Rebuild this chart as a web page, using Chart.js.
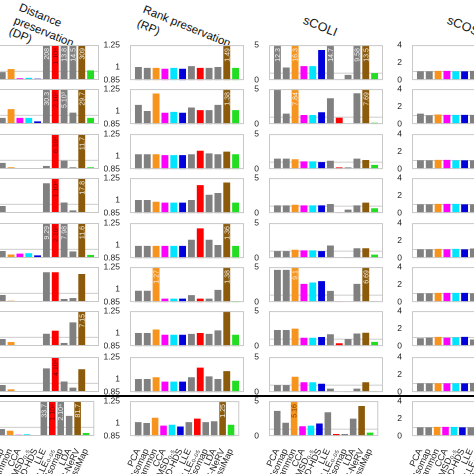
<!DOCTYPE html>
<html><head><meta charset="utf-8">
<script src="https://cdn.jsdelivr.net/npm/chart.js@4"></script>
<style>
body{margin:0;width:474px;height:474px;overflow:hidden;background:#fff;position:relative;font-family:"Liberation Sans",Arial,sans-serif}
canvas{position:absolute}
.t{position:absolute;font-size:11.5px;color:#111;transform:rotate(22deg);transform-origin:left top;line-height:12px;white-space:nowrap}
</style></head><body>
<div class="t" style="left:22px;top:1px">Distance</div>
<div class="t" style="left:17px;top:14px">preservation</div>
<div class="t" style="left:12px;top:25px">(DP)</div>
<div class="t" style="left:146px;top:3px">Rank preservation</div>
<div class="t" style="left:140px;top:17px">(RP)</div>
<div class="t" style="left:306px;top:14px;font-size:12.5px">sCOLI</div>
<div class="t" style="left:450px;top:14px;font-size:12.5px">sCOSI</div>
<div style="position:absolute;left:0;top:395px;width:474px;height:2px;background:#000;z-index:5"></div>
<script>
const categories=["PCA","Isomap","Sammon","CCA","LMSD₀.₅","DD-HDS","LLE","S-LLE₀.₀₅","S-Isomap","LDA","S-NeRV","ClassiMap"];
const colors=["#808080","#808080","#f7941d","#ff00ff","#00e5ff","#0000dd","#808080","#ff0000","#808080","#808080","#8b5a0a","#22dd22"];
const dp=[
[1,0.9,1.25,0.2,0.25,0.15,208,99,13.8,14.5,309,1.1],
[1,0.7,1.7,0.7,0.7,0.3,30.3,99,99,1.3,29.7,0.7],
[1,0.7,0.2,0.05,0.05,0.05,0.35,99,0.95,0.2,11.7,0.2],
[1,0.8,0.1,0.05,0.05,0.05,3.4,99,1.2,0.3,17.8,0.05],
[1,0.8,0.4,0.5,0.55,0.3,9.29,99,7.98,0.75,11.6,0.35],
[1,0.8,0.15,0.05,0.05,0.05,3.4,3.4,0.35,0.45,3.2,0.05],
[1,0.8,0.45,0.05,0.05,0.05,1.4,1.75,0.35,2.7,7.15,0.1],
[1,0.8,0.3,0.05,0.05,0.05,2.7,99,1.2,0.5,2.6,0.1],
[1,0.8,0.6,0.15,0.2,0.1,33.7,99,99,2.3,81.7,0.35]];
const dpLabels=[
{6:"208",7:"1.10⁴",8:"13.8",9:"14.5",10:"309"},
{6:"30.3",7:"2.10³",8:"5.10³",10:"29.7"},
{7:"6.10³",10:"11.7"},
{7:"1.10⁴",10:"17.8"},
{6:"9.29",7:"2.10³",8:"7.98",10:"11.6"},
{},
{10:"7.15"},
{7:"4.10³"},
{6:"33.7",7:"1.10⁴",8:"2.10⁴",10:"81.7"}];
const rp=[
[1.0,0.99,0.99,0.98,0.99,0.98,1.01,0.99,0.99,1.0,1.49,0.99],
[1.07,1.0,1.2,0.98,0.99,0.98,1.04,1.01,1.01,1.07,1.38,1.01],
[1.02,1.02,1.02,1.01,1.01,1.01,1.02,1.06,1.03,1.02,1.05,1.02],
[1.0,1.0,0.98,0.97,0.97,0.97,1.0,1.17,1.06,1.08,1.2,0.97],
[0.99,0.99,0.99,0.99,0.99,0.99,1.06,1.19,1.06,1.0,1.36,0.99],
[0.98,0.98,1.27,0.89,0.89,0.89,0.93,0.89,0.89,0.99,1.38,0.86],
[1.0,1.0,1.04,0.98,0.98,0.98,0.99,1.0,0.99,1.03,1.25,0.98],
[1.0,1.0,1.02,0.97,0.97,0.97,1.02,1.13,1.03,1.0,1.09,0.98],
[1.01,1.0,1.06,0.97,0.98,0.96,1.01,1.05,1.01,1.02,1.25,0.98]];
const rpLabels=[{10:"1.49"},{10:"1.38"},{},{},{10:"1.36"},{2:"1.27",10:"1.38"},{},{},{10:"1.25"}];
const scoli=[
[12.3,1.8,16.3,2.0,2.0,4.3,14.7,0.05,0.75,9.58,13.5,1.0],
[5,1.5,7.84,1.3,1.3,1.7,3.7,0.9,0,4.4,7.69,0.2],
[1.5,1.5,1.4,1.1,1.1,1.0,1.2,0.25,0.25,1.5,1.3,0.6],
[1.1,1.1,1.2,1.1,1.1,1.1,1.3,0.1,0.5,1.1,1.5,0.7],
[1.0,1.0,1.2,1.1,1.1,1.0,1.8,0,0.1,1.4,1.4,0.5],
[4.6,4.6,9.1,2.6,2.8,3.0,1.6,0.1,0,2.6,6.69,0.1],
[2.3,2.3,2.5,1.2,1.2,1.3,1.7,0.4,1.0,1.8,1.9,0.6],
[1.0,1.0,2.2,1.4,1.4,1.2,0.5,0,0.1,0.5,1.4,0.1],
[3.6,1.9,5.16,1.4,1.5,1.8,3.4,0.3,0.3,2.5,4.3,0.5]];
const scoliLabels=[{0:"12.3",2:"16.3",6:"14.7",9:"9.58",10:"13.5"},{2:"7.84",10:"7.69"},{},{},{},{2:"9.1",10:"6.69"},{},{},{2:"5.16"}];
const scos=[
[1,1,1.05,1.05,1,1,1.05,1,1,1,1,1],
[1.2,1,1.1,1.05,1.05,1.05,1.05,1,1,1,1,1],
[1,1,1.05,1.05,1,1,1,1,1,1,1,1],
[1,1,1.05,1.05,1.05,1,1,1,1,1,1,1],
[1,1,1.05,1,1.05,1,1.1,1,1,1,1,1],
[1,1,1.05,1.05,1.05,1.05,1,1,1,1,1,1],
[0.9,0.95,1.05,0.95,1,1.05,0.75,1,1,1,1,1],
[1,1,1,1,1,1,1.05,1,1,1,1,1],
[1,1,1.05,1.05,1.05,1,1,1,1,1,1,1]];
const rowTops=[45,89,134,178,223,267,311,357,401];
const plotH=35, xAxH=62;
const panels=[
 {data:dp,labels:dpLabels,left:-15,min:0,max:4,ticks:[],ref:1},
 {data:rp,labels:rpLabels,left:130,min:0.85,max:1.25,ticks:[0.85,1,1.25],ref:null},
 {data:scoli,labels:scoliLabels,left:269,min:0,max:5,ticks:[0,5],ref:1},
 {data:scos,labels:null,left:412,min:0,max:4,ticks:[0,2,4],ref:1}];
const frameW=114, inset=4, axW=26;
const deco={id:'deco',
 beforeDatasetsDraw(c,a,o){if(o.ref==null)return;const ctx=c.ctx,y=c.scales.y.getPixelForValue(o.ref);
  ctx.save();ctx.strokeStyle='#bbb';ctx.lineWidth=0.8;ctx.beginPath();ctx.moveTo(c.chartArea.left-inset,y);ctx.lineTo(c.chartArea.right+inset,y);ctx.stroke();ctx.restore();},
 afterDatasetsDraw(c,a,o){const ctx=c.ctx,ca=c.chartArea;ctx.save();ctx.strokeStyle='#c8c8c8';ctx.lineWidth=1;
  ctx.strokeRect(ca.left-inset+0.5,ca.top+0.5,ca.right-ca.left+2*inset-1,ca.bottom-ca.top-1);
  if(o.labels){const m=c.getDatasetMeta(0);for(const k in o.labels){const b=m.data[k];ctx.save();ctx.translate(b.x+2.5,ca.top+3);ctx.rotate(-Math.PI/2);
   ctx.fillStyle=(+k===7)?'#800000':(o.dark&&+k===2?'#7a3a00':'#f4f4f4');ctx.font='7px "Liberation Sans"';ctx.textAlign='right';ctx.fillText(o.labels[k],0,0);ctx.restore();}}
  ctx.restore();}};
panels.forEach((p,pi)=>{
 rowTops.forEach((top,ri)=>{
  const last=ri===8;
  const cv=document.createElement('canvas');
  const W=frameW+axW;
  let h=plotH+6+(last?xAxH:2);
  cv.width=W;cv.height=h;
  cv.style.left=(p.left-axW)+'px';cv.style.top=(top-6)+'px';
  cv.style.width=W+'px';cv.style.height=h+'px';
  document.body.appendChild(cv);
  const ch=new Chart(cv,{type:'bar',
   data:{labels:categories,datasets:[{data:p.data[ri],backgroundColor:colors,barPercentage:0.78,categoryPercentage:1}]},
   options:{responsive:false,maintainAspectRatio:false,animation:false,devicePixelRatio:2,
    layout:{padding:{top:6,bottom:last?0:2,left:0,right:inset}},
    plugins:{legend:{display:false},tooltip:{enabled:false},deco:{ref:p.ref,labels:p.labels?p.labels[ri]:null,dark:pi===2&&ri===8}},
    scales:{
     x:{display:last,grid:{display:false},border:{display:false},afterFit(s){if(last)s.height=xAxH;},
      ticks:{color:'#222',font:{size:9,family:'Liberation Sans'},minRotation:65,maxRotation:65,autoSkip:false,padding:3}},
     y:{min:p.min,max:p.max,afterFit(s){s.width=axW+inset;},afterBuildTicks(s){s.ticks=p.ticks.map(v=>({value:v}));},
      grid:{display:false},border:{display:false},
      ticks:{color:'#222',font:{size:8.5,family:'Liberation Sans'},padding:inset+2,callback:v=>String(v)}}}},
   plugins:[deco]});
  for(let i=0;i<3;i++){const ca=ch.chartArea;const d=plotH-(ca.bottom-ca.top);if(Math.abs(d)<0.5)break;h+=d;ch.resize(W,h);}
  cv.style.top=(top-ch.chartArea.top)+'px';
 });
});
</script></body></html>
